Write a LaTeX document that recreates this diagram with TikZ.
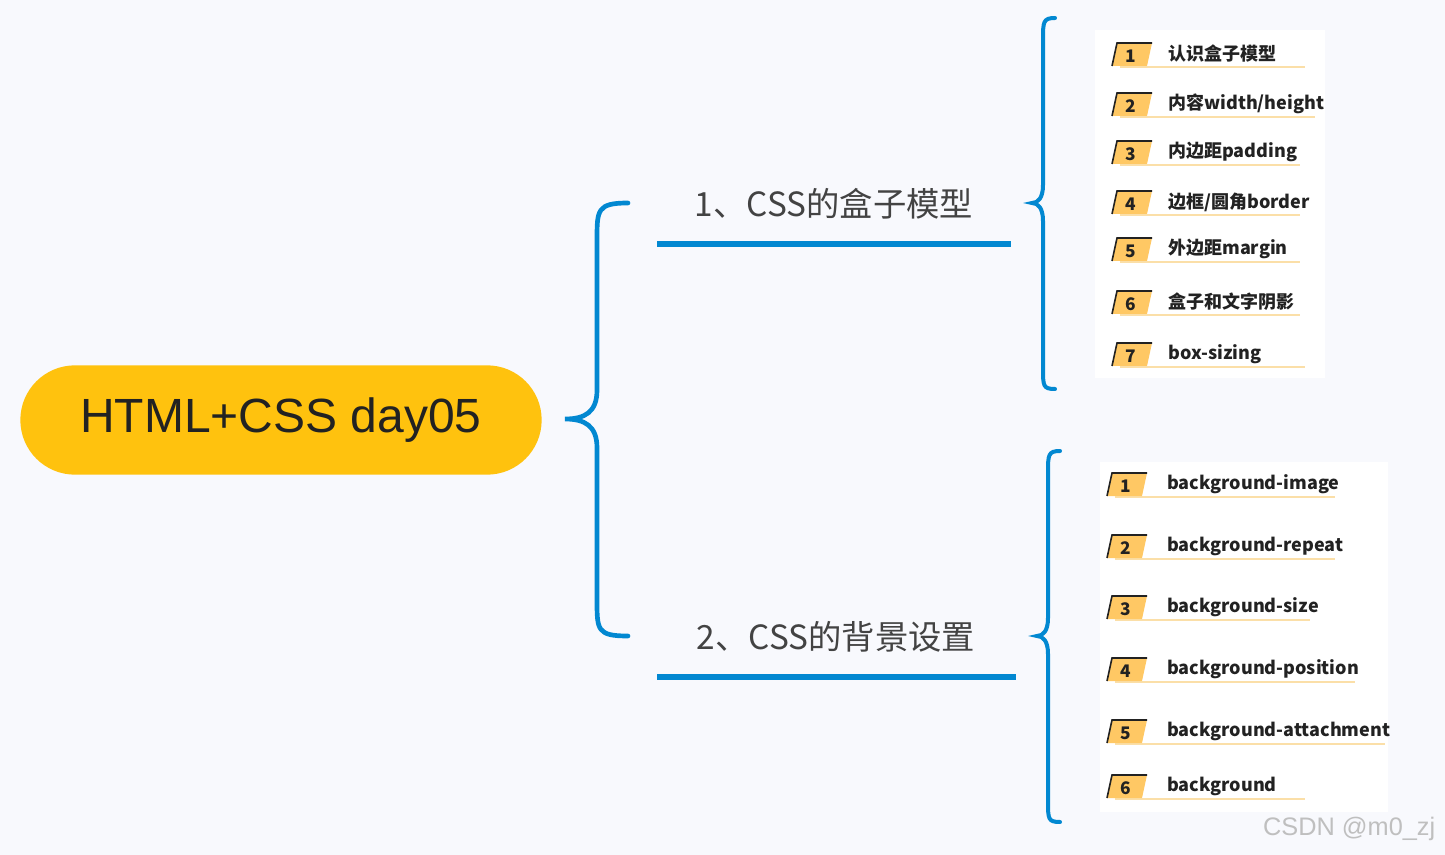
\documentclass[tikz,border=0pt]{standalone}
\usepackage{fontspec}
\setmainfont{Noto Sans CJK SC}
\newfontfamily\cjk{Noto Sans CJK SC}
\newfontfamily\lat{Noto Sans CJK SC}
\definecolor{bg}{HTML}{F8F9FD}
\definecolor{yel}{HTML}{FFC20E}
\definecolor{blu}{HTML}{0288D1}
\definecolor{bad}{HTML}{FFC864}
\definecolor{uline}{HTML}{FBDFA8}
\definecolor{txt}{HTML}{222222}
\tikzset{
 brace/.style={draw=blu,line width=3.5pt,line cap=round},
 ul/.style={draw=blu,line width=4.5pt},
 item/.style={anchor=west,font=\cjk\bfseries\fontsize{13.5}{15}\selectfont,text=txt,inner sep=0},
 head/.style={anchor=south,font=\cjk\fontsize{25}{28}\selectfont,text=txt!85,inner sep=2},
}
\newcommand{\badge}[4]{%
 \fill[bad] (#2+5,#3-11) -- (#2+40,#3-11) -- (#2+35,#3+12) -- (#2,#3+12) -- cycle;
 \draw[line width=1.2pt,txt] (#2,#3+12) -- (#2+5,#3-11) -- (#2+40,#3-11);
 \node[font=\lat\bfseries\fontsize{13}{14}\selectfont,text=txt] (#1) at (#2+19,#3+2) {#4};
}
\begin{document}
\begin{tikzpicture}[x=0.75pt,y=-0.75pt]
\fill[bg] (0,0) rectangle (1445,855);
\useasboundingbox (0,0) rectangle (1445,855);
\fill[white] (1095,30) rectangle (1325,378);
\fill[white] (1100,462) rectangle (1388,812);
\node[fill=yel,rounded corners=41pt,minimum width=391pt,minimum height=82pt,
 font=\fontsize{36}{40}\selectfont,text=txt] (root) at (281,420) {\fontspec{Liberation Sans}HTML+CSS day05};
\coordinate (bt) at (628,203); \coordinate (bb) at (628,636); \coordinate (btip) at (565,419);
\draw[brace] (bt) .. controls (597,203) and (597,210) .. (597,240) -- (597,390)
 .. controls (597,412) and (585,419) .. (btip) .. controls (585,419) and (597,426) .. (597,448)
 -- (597,600) .. controls (597,630) and (597,636) .. (bb);
\draw[ul] (657,244) coordinate (u1a) -- (1011,244) coordinate (u1b);
\draw[ul] (657,677) coordinate (u2a) -- (1016,677) coordinate (u2b);
\node[head] (h1) at (834,222) {1、CSS的盒子模型};
\node[head] (h2) at (836,655) {2、CSS的背景设置};
\draw[brace,line width=3pt] (1055,18) .. controls (1043,18) and (1043,22) .. (1043,40) -- (1043,185)
 .. controls (1043,198) and (1038,203) .. (1032,203) .. controls (1038,203) and (1043,208) .. (1043,221)
 -- (1043,368) .. controls (1043,386) and (1043,389) .. (1055,389);
\draw[brace,line width=3pt] (1060,451) .. controls (1048,451) and (1048,455) .. (1048,473) -- (1048,618)
 .. controls (1048,631) and (1043,636) .. (1037,636) .. controls (1043,636) and (1048,641) .. (1048,654)
 -- (1048,801) .. controls (1048,819) and (1048,822) .. (1060,822);
\foreach \y/\n/\t/\e in {54/1/{认识盒子模型}/1305,104/2/{内容width/height}/1315,152/3/{内边距padding}/1300,202/4/{边框/圆角border}/1300,249/5/{外边距margin}/1300,302/6/{盒子和文字阴影}/1300,354/7/{box-sizing}/1305}{
 \draw[uline,line width=0.8pt] (1120,\y+13) -- (\e,\y+13);
 \badge{t\n}{1112}{\y}{\n}
 \node[item] (ti\n) at (1168,\y) {\t};
}
\foreach \y/\n/\t/\e in {484/1/{background-image}/1335,546/2/{background-repeat}/1335,607/3/{background-size}/1310,669/4/{background-position}/1355,731/5/{background-attachment}/1385,786/6/{background}/1305}{
 \draw[uline,line width=0.8pt] (1115,\y+13) -- (\e,\y+13);
 \badge{b\n}{1107}{\y}{\n}
 \node[item] (bi\n) at (1167,\y) {\t};
}
\node[anchor=east,font=\fontsize{19}{20}\selectfont,text=black!25] (wm) at (1440,829) {\fontspec{Liberation Sans}CSDN @m0\_zj};
\end{tikzpicture}
\end{document}
